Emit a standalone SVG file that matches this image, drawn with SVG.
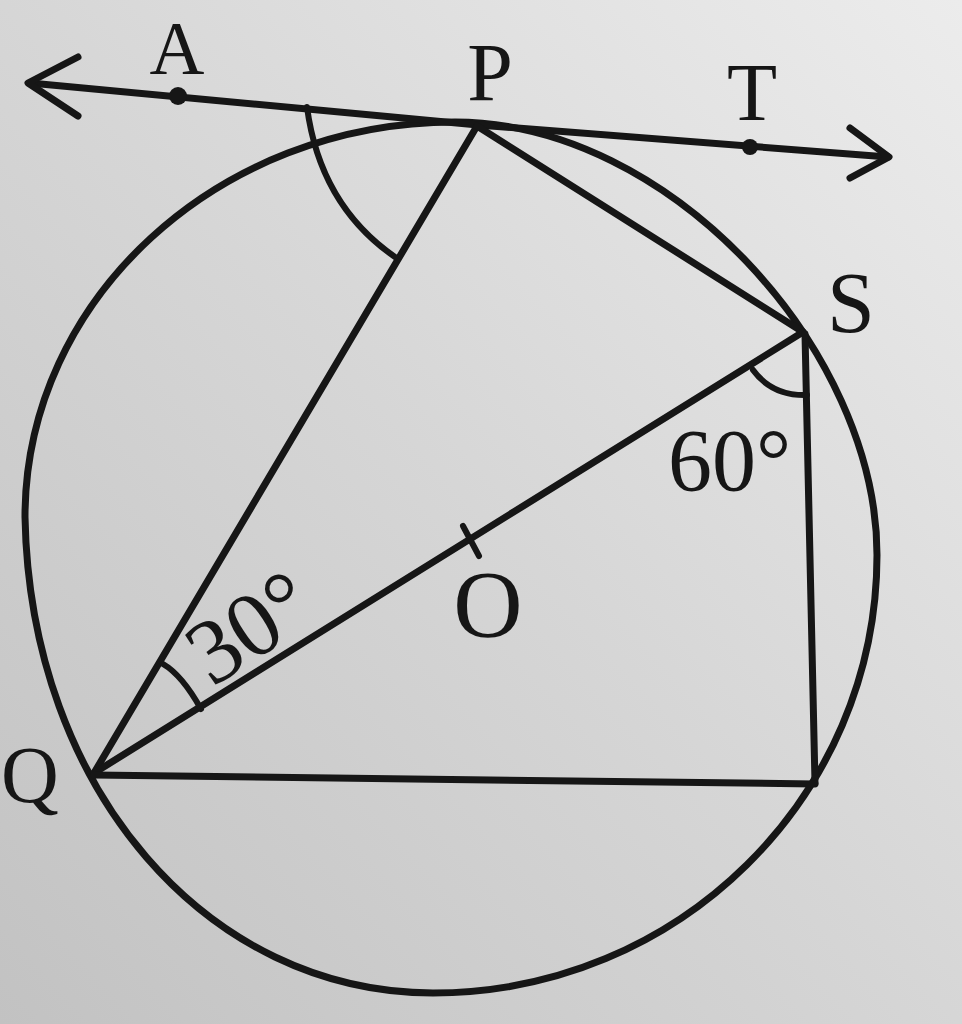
<svg xmlns="http://www.w3.org/2000/svg" width="962" height="1024" viewBox="0 0 962 1024">
<defs>
<linearGradient id="bg" x1="1" y1="0" x2="0" y2="1">
<stop offset="0" stop-color="#ececec"/>
<stop offset="0.5" stop-color="#d6d6d6"/>
<stop offset="1" stop-color="#c2c2c2"/>
</linearGradient>
<style>
.ln{stroke:#161616;stroke-width:7;fill:none;stroke-linecap:round;stroke-linejoin:round}
.thin{stroke:#161616;stroke-width:6;fill:none;stroke-linecap:round}
.lb{font-family:"Liberation Serif","Times New Roman",serif;fill:#161616}
</style>
</defs>
<rect width="962" height="1024" fill="url(#bg)"/>
<g id="circle">
<path class="ln" d="M25,517 C25,299 218,122 455,122 C670,122 877,350 877,555 C877,797 678,993 433,993 C208,993 30,790 25,517 Z"/>
</g>
<g id="connectors">
<path class="ln" d="M30,83 L478,125 L888,157"/>
<path class="ln" d="M78,57 L28,83 L78,116"/>
<path class="ln" d="M850,128 L889,157 L850,178"/>
<line class="ln" x1="477" y1="126" x2="94" y2="773"/>
<line class="ln" x1="477" y1="126" x2="803" y2="332"/>
<line class="ln" x1="94" y1="773" x2="803" y2="332"/>
<line class="ln" x1="805" y1="334" x2="815" y2="783"/>
<line class="ln" x1="94" y1="775" x2="815" y2="784"/>
<path class="thin" d="M307,107 Q320,205 395,257"/>
<path class="thin" d="M753,370 Q772,396 807,395"/>
<path class="thin" d="M163,664 Q182,675 201,709"/>
<line class="thin" x1="463" y1="526" x2="479" y2="556"/>
</g>
<g id="pointA"><circle cx="178" cy="96" r="9" fill="#161616"/><text class="lb" x="177" y="74" font-size="76" text-anchor="middle">A</text></g>
<g id="pointP"><text class="lb" x="490" y="100" font-size="82" text-anchor="middle">P</text></g>
<g id="pointT"><circle cx="750" cy="147" r="8" fill="#161616"/><text class="lb" x="752" y="120" font-size="82" text-anchor="middle">T</text></g>
<g id="pointS"><text class="lb" x="851" y="332" font-size="86" text-anchor="middle">S</text></g>
<g id="pointO"><text class="lb" x="488" y="637" font-size="96" text-anchor="middle">O</text></g>
<g id="pointQ"><text class="lb" x="30" y="802" font-size="80" text-anchor="middle">Q</text></g>
<g id="angle60"><text class="lb" x="668" y="490" font-size="88">60°</text></g>
<g id="angle30"><text class="lb" font-size="92" transform="translate(212,688) rotate(-33)">30°</text></g>
</svg>
